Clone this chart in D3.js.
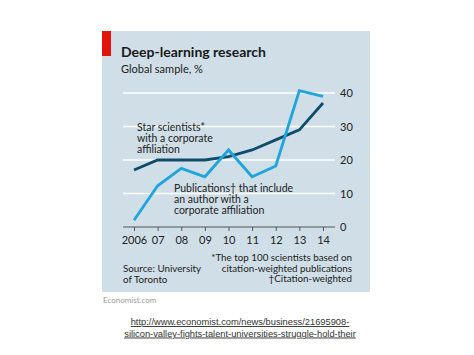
<!DOCTYPE html>
<html><head><meta charset="utf-8">
<script src="https://cdn.jsdelivr.net/npm/d3@7"></script>
<style>body{margin:0;background:#fff}svg{display:block}</style>
</head><body>
<script>
const years = ["2006","07","08","09","10","11","12","13","14"];
const starScientists = [17, 20, 20, 20, 21, 23, 26, 29, 37];
const publications = [2, 12.3, 17.5, 15, 23, 15, 18.2, 40.7, 39];
const yTicks = [0, 10, 20, 30, 40];

const W = 474, H = 355;
const svg = d3.select("body").append("svg").attr("width", W).attr("height", H);
const font = "Lato, 'Open Sans', sans-serif";

// panel
svg.append("rect").attr("x",102).attr("y",31).attr("width",268).attr("height",261).attr("fill","#cfdee7");
svg.append("rect").attr("x",102).attr("y",31).attr("width",9).attr("height",25).attr("fill","#e3120b");

svg.append("text").attr("x",121).attr("y",57).text("Deep-learning research")
  .attr("font-family",font).attr("font-weight",700).attr("font-size",14).attr("fill","#1a1a1a");
svg.append("text").attr("x",121).attr("y",73).text("Global sample, %")
  .attr("font-family",font).attr("font-size",11).attr("fill","#222");

const x = d3.scalePoint().domain(years).range([134, 323]);
const y = d3.scaleLinear().domain([0, 40]).range([227, 93]);

// gridlines
svg.append("g").selectAll("line").data(yTicks.filter(d=>d>0)).join("line")
  .attr("x1",123).attr("x2",335).attr("y1",d=>y(d)).attr("y2",d=>y(d))
  .attr("stroke","#ffffff").attr("stroke-width",1.6);

// y axis labels on right
const yAxis = d3.axisRight(y).tickValues(yTicks).tickSize(0).tickPadding(0);
const gy = svg.append("g").attr("transform","translate(340,0)").call(yAxis);
gy.select(".domain").remove();
gy.selectAll("text").attr("font-family",font).attr("font-size",11).attr("fill","#222");

// x axis
const xAxis = d3.axisBottom(x).tickSize(4).tickPadding(5);
const gx = svg.append("g").attr("transform","translate(0,227)").call(xAxis);
gx.select(".domain").attr("d","M123,0H335").attr("stroke","#555").attr("stroke-width",1);
gx.selectAll(".tick line").attr("stroke","#555");
gx.selectAll("text").attr("font-family",font).attr("font-size",11).attr("fill","#222");

const line = d3.line().x((d,i)=>x(years[i])).y(d=>y(d));
svg.append("path").datum(starScientists).attr("d",line).attr("fill","none")
  .attr("stroke","#0e4c6c").attr("stroke-width",2.8).attr("stroke-linejoin","miter");
svg.append("path").datum(publications).attr("d",line).attr("fill","none")
  .attr("stroke","#1ea5de").attr("stroke-width",2.8).attr("stroke-linejoin","miter");

function lines(xp, yp, arr, anchor, size, lh, fill, fam){
  arr.forEach((s,i)=>svg.append("text").attr("x",xp).attr("y",yp+i*lh).text(s)
    .attr("font-family",fam||font).attr("font-size",size).attr("fill",fill||"#222")
    .attr("text-anchor",anchor||"start")
    .attr("text-decoration", fam ? "underline" : null));
}
lines(137,130.5,["Star scientists*","with a corporate","affiliation"],"start",10.5,11);
lines(174,192,["Publications† that include","an author with a","corporate affiliation"],"start",10.5,11);
lines(123,272,["Source: University","of Toronto"],"start",9.8,11);
lines(352,261,["*The top 100 scientists based on","citation-weighted publications","†Citation-weighted"],"end",9.8,10.5);

svg.append("text").attr("x",103).attr("y",303).text("Economist.com")
  .attr("font-family",font).attr("font-size",8).attr("fill","#999");

lines(240,325,["http://www.economist.com/news/business/21695908-","silicon-valley-fights-talent-universities-struggle-hold-their"],"middle",9.3,11.5,"#333","'Liberation Sans', Arial, sans-serif");
</script>
</body></html>
